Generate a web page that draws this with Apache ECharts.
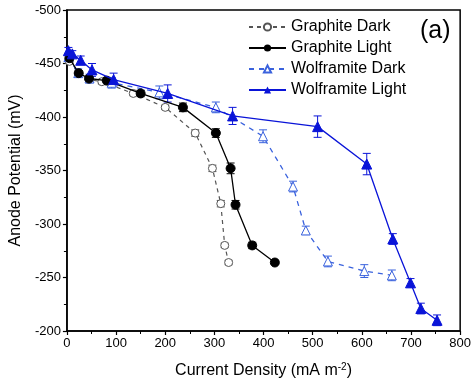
<!DOCTYPE html>
<html><head><meta charset="utf-8">
<script src="https://cdn.jsdelivr.net/npm/echarts@6/dist/echarts.min.js"></script>
<style>html,body{margin:0;padding:0;background:#fff}#c{width:474px;height:385px}</style>
</head><body><div id="c"></div>
<script>
const xTicks = [0,100,200,300,400,500,600,700,800];
const yTicks = [-500,-450,-400,-350,-300,-250,-200];

const graphiteDarkX = [5, 24, 45, 71, 135, 200, 261, 296, 313, 321, 329];
const graphiteDarkY = [-452, -441, -435, -433, -422, -409, -385, -352, -319, -280, -264];
const graphiteDarkErr = [2, 2, 2, 2, 2, 2, 3, 3, 3, 2, 2];

const graphiteLightX = [5, 24, 45, 81, 150, 236, 303, 333, 343, 377, 423];
const graphiteLightY = [-455, -441, -436, -434, -422, -409, -385, -352, -318, -280, -264];
const graphiteLightErr = [2, 2, 2, 3, 3, 4, 4, 5, 4, 3, 2];

const wolfDarkX = [3, 23, 46, 91, 188, 303, 399, 460, 486, 531, 605, 661];
const wolfDarkY = [-456, -441, -436, -432, -423, -409, -382, -335, -294, -265, -256, -252];
const wolfDarkErr = [3, 4, 4, 5, 6, 5, 6, 5, 4, 5, 6, 5];

const wolfLightX = [3, 11, 28, 51, 95, 205, 337, 510, 610, 663, 699, 720, 753];
const wolfLightY = [-462, -459, -453, -444, -435, -422, -401, -391, -356, -286, -245, -221, -210];
const wolfLightErr = [3, 3, 4, 6, 6, 8, 8, 10, 10, 5, 4, 5, 5];

function pts(xs, ys){ return xs.map((x,i)=>[x, ys[i]]); }
function errData(xs, ys, es){ return xs.map((x,i)=>[x, ys[i]-es[i], ys[i]+es[i]]); }

function errSeries(xs, ys, es, color){
  return {
    type:'custom', silent:true, z:1,
    renderItem:function(params, api){
      const x = api.value(0), lo = api.value(1), hi = api.value(2);
      const p1 = api.coord([x, lo]), p2 = api.coord([x, hi]);
      const w = 4;
      return {type:'group', children:[
        {type:'line', shape:{x1:p1[0],y1:p1[1],x2:p2[0],y2:p2[1]}, style:{stroke:color,lineWidth:1}},
        {type:'line', shape:{x1:p1[0]-w,y1:p1[1],x2:p1[0]+w,y2:p1[1]}, style:{stroke:color,lineWidth:1}},
        {type:'line', shape:{x1:p2[0]-w,y1:p2[1],x2:p2[0]+w,y2:p2[1]}, style:{stroke:color,lineWidth:1}}
      ]};
    },
    encode:{x:0, y:[1,2]},
    data: errData(xs, ys, es)
  };
}

const cGD = '#555555', cGL = '#000000', cWD = '#3a62dd', cWL = '#0a14d8';

const chart = echarts.init(document.getElementById('c'), null, {renderer:'canvas'});
chart.setOption({
  animation:false,
  textStyle:{fontFamily:'Liberation Sans, Arial, sans-serif'},
  grid:{left:62, right:13, top:10, bottom:54, show:true, borderColor:'#000', borderWidth:1.5, backgroundColor:'transparent'},
  legend:{
    orient:'vertical', left:243, top:14, itemWidth:37, itemHeight:9, itemGap:5,
    textStyle:{fontSize:16, color:'#000', lineHeight:16, fontFamily:'Liberation Sans, Arial, sans-serif'},
    data:['Graphite Dark','Graphite Light','Wolframite Dark','Wolframite Light']
  },
  graphic:[{type:'text', left:420, top:19, style:{text:'(a)', fontSize:25, fill:'#000', fontFamily:'Liberation Sans, Arial, sans-serif'}}],
  xAxis:{
    type:'value', min:xTicks[0], max:xTicks[xTicks.length-1], interval:100,
    name:'Current Density (mA m{sup|-2})', nameLocation:'middle', nameGap:31,
    nameTextStyle:{fontSize:16, color:'#000', rich:{sup:{fontSize:10, verticalAlign:'top', padding:[0,0,8,0], color:'#000'}}},
    axisLine:{lineStyle:{color:'#000', width:1.5}},
    axisTick:{inside:false, length:4, lineStyle:{color:'#000', width:1.2}},
    minorTick:{show:true, splitNumber:2, length:3, lineStyle:{color:'#000'}},
    axisLabel:{fontSize:13, color:'#000', margin:6},
    splitLine:{show:false}
  },
  yAxis:{
    type:'value', inverse:true, min:yTicks[0], max:yTicks[yTicks.length-1], interval:50,
    name:'Anode Potential (mV)', nameLocation:'middle', nameGap:40,
    nameTextStyle:{fontSize:16, color:'#000'},
    axisLine:{show:true, lineStyle:{color:'#000', width:1.5}},
    axisTick:{show:true, inside:false, length:4, lineStyle:{color:'#000', width:1.2}},
    minorTick:{show:true, splitNumber:2, length:3, lineStyle:{color:'#000'}},
    axisLabel:{fontSize:13, color:'#000', margin:6},
    splitLine:{show:false}
  },
  series:[
    errSeries(graphiteDarkX, graphiteDarkY, graphiteDarkErr, cGD),
    errSeries(graphiteLightX, graphiteLightY, graphiteLightErr, cGL),
    errSeries(wolfDarkX, wolfDarkY, wolfDarkErr, cWD),
    errSeries(wolfLightX, wolfLightY, wolfLightErr, cWL),
    {name:'Graphite Dark', type:'line', data:pts(graphiteDarkX, graphiteDarkY), symbol:'circle', symbolSize:8,
      lineStyle:{color:cGD, width:1.2, type:[4,4]}, itemStyle:{color:'#fff', borderColor:cGD, borderWidth:1}, z:3},
    {name:'Graphite Light', type:'line', data:pts(graphiteLightX, graphiteLightY), symbol:'circle', symbolSize:9,
      lineStyle:{color:cGL, width:1.3}, itemStyle:{color:cGL, borderColor:cGL}, z:4},
    {name:'Wolframite Dark', type:'line', data:pts(wolfDarkX, wolfDarkY), symbol:'triangle', symbolSize:9,
      lineStyle:{color:cWD, width:1.3, type:[5,5]}, itemStyle:{color:'#fff', borderColor:cWD, borderWidth:1}, z:3},
    {name:'Wolframite Light', type:'line', data:pts(wolfLightX, wolfLightY), symbol:'triangle', symbolSize:10,
      lineStyle:{color:cWL, width:1.3}, itemStyle:{color:cWL, borderColor:cWL}, z:5}
  ]
});
</script></body></html>
